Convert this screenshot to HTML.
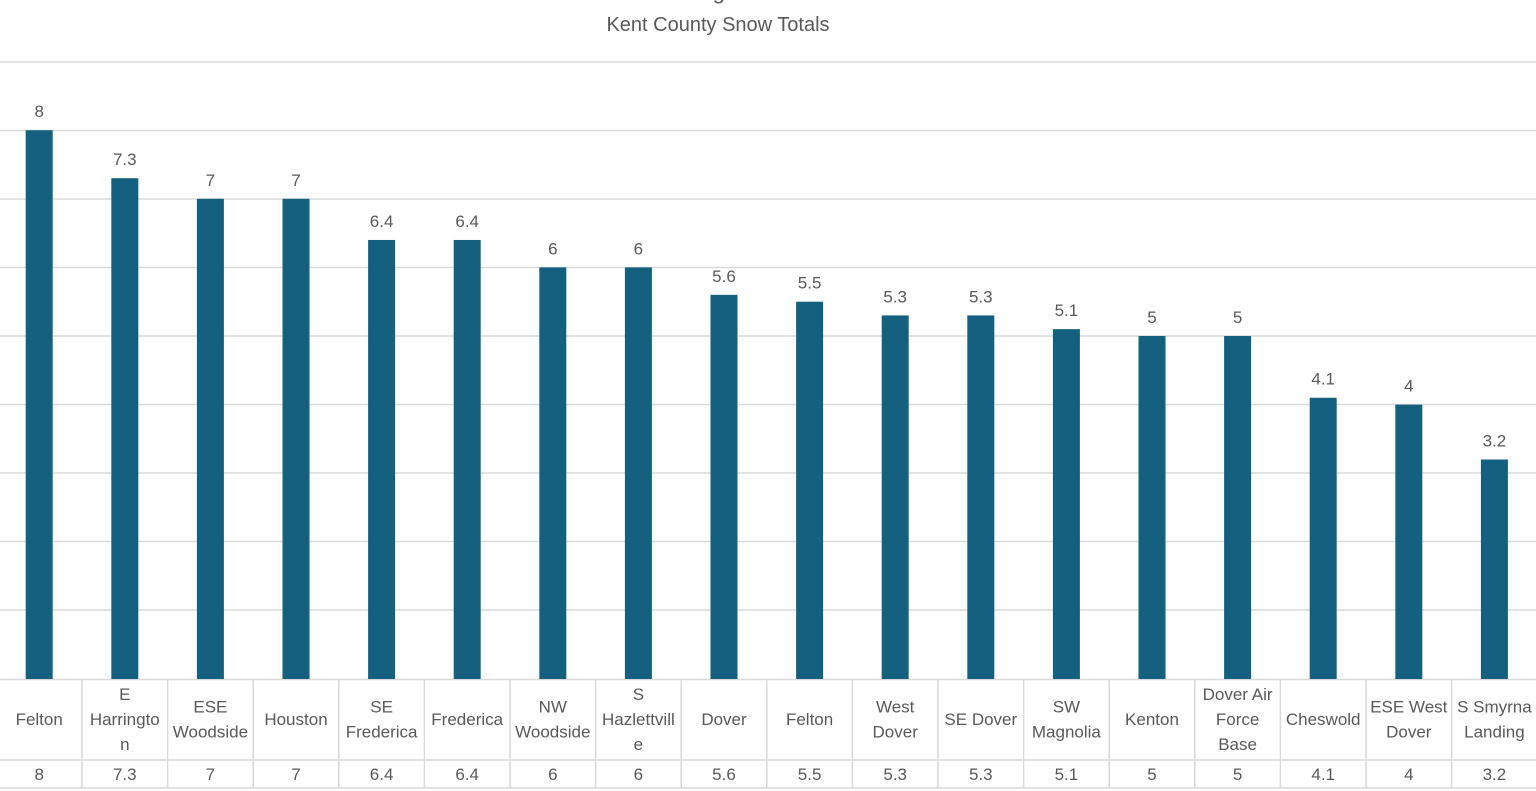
<!DOCTYPE html>
<html><head><meta charset="utf-8"><style>
html,body{margin:0;padding:0;background:#fff;width:1536px;height:791px;overflow:hidden}
svg text{font-family:"Liberation Sans",sans-serif;fill:#595959}
</style></head><body>
<svg width="1536" height="791" xmlns="http://www.w3.org/2000/svg">
<text x="555" y="-1" font-size="22">Snowfall Rankings</text>
<text x="718" y="31" font-size="20" text-anchor="middle">Kent County Snow Totals</text>
<g stroke="#d9d9d9" stroke-width="1.5">
<line x1="0" x2="1536" y1="62" y2="62"/><line x1="0" x2="1536" y1="130.5" y2="130.5"/>
<line x1="0" x2="1536" y1="199" y2="199"/><line x1="0" x2="1536" y1="267.5" y2="267.5"/>
<line x1="0" x2="1536" y1="336" y2="336"/><line x1="0" x2="1536" y1="404.5" y2="404.5"/>
<line x1="0" x2="1536" y1="473" y2="473"/><line x1="0" x2="1536" y1="541.5" y2="541.5"/>
<line x1="0" x2="1536" y1="610" y2="610"/>
<line x1="0" x2="1536" y1="679.5" y2="679.5"/><line x1="0" x2="1536" y1="760" y2="760"/><line x1="0" x2="1536" y1="788" y2="788"/>
</g>
<g id="c"></g>
</svg>
<script>
var d=[["Felton",8],["E|Harringto|n",7.3],["ESE|Woodside",7],["Houston",7],["SE|Frederica",6.4],["Frederica",6.4],["NW|Woodside",6],["S|Hazlettvill|e",6],["Dover",5.6],["Felton",5.5],["West|Dover",5.3],["SE Dover",5.3],["SW|Magnolia",5.1],["Kenton",5],["Dover Air|Force|Base",5],["Cheswold",4.1],["ESE West|Dover",4],["S Smyrna|Landing",3.2]];
var g=document.getElementById('c'),h='',x0=-3.6,w=85.6,u=68.6,base=679;
d.forEach(function(e,i){var cx=x0+w*(i+.5),y=base-e[1]*u;
h+='<rect x="'+(cx-13.5)+'" y="'+y+'" width="27" height="'+(base-y)+'" fill="#16607f"/>';
h+='<text x="'+cx+'" y="'+(y-13)+'" font-size="17" text-anchor="middle">'+e[1]+'</text>';
var L=e[0].split('|'),s=725-(L.length-1)*12.5;
L.forEach(function(t,k){h+='<text x="'+cx+'" y="'+(s+k*25)+'" font-size="17" text-anchor="middle">'+t+'</text>';});
h+='<text x="'+cx+'" y="780" font-size="17" text-anchor="middle">'+e[1]+'</text>';
if(i>0)h+='<line x1="'+(x0+w*i)+'" x2="'+(x0+w*i)+'" y1="679" y2="788" stroke="#d9d9d9" stroke-width="1.5"/>';
});
g.innerHTML=h;
</script>
</body></html>
